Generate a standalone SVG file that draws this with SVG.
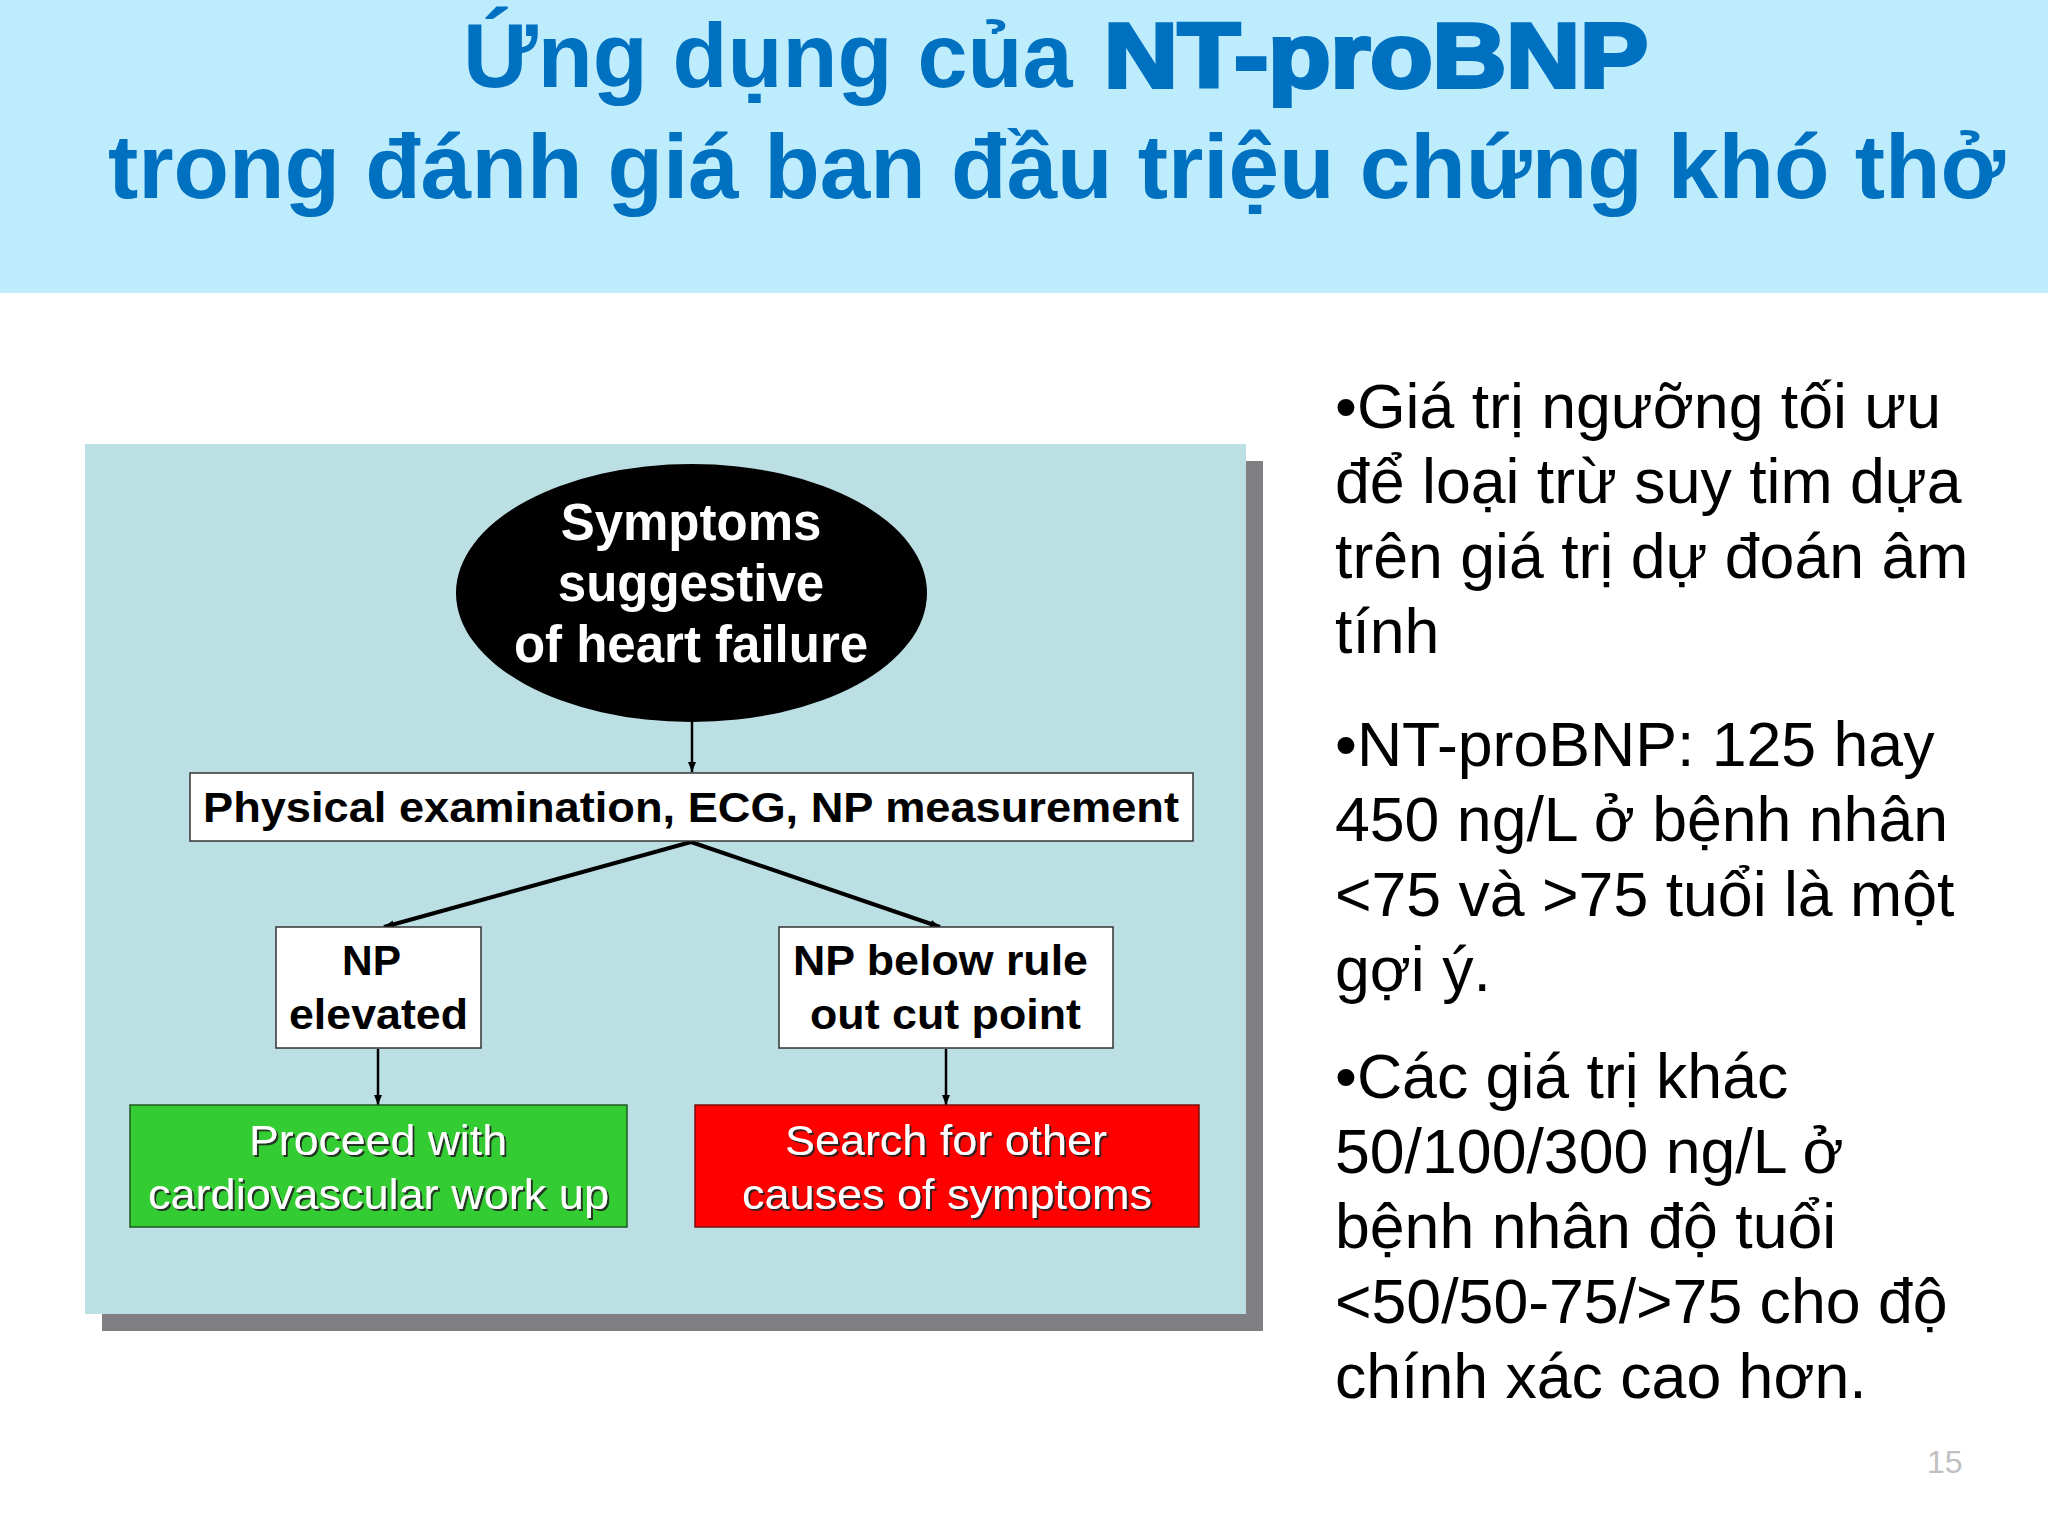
<svg xmlns="http://www.w3.org/2000/svg" width="2048" height="1536" viewBox="0 0 2048 1536">
<defs>
<style>
.title{font-family:"Liberation Sans",Arial,sans-serif;font-weight:bold;fill:#0070C0;font-size:90px}
.box{fill:#ffffff;stroke:#333333;stroke-width:1.5}
.bt{font-family:"Liberation Sans",Arial,sans-serif;font-weight:bold;fill:#000000;font-size:42px}
.wt{font-family:"Liberation Sans",Arial,sans-serif;fill:#ffffff;font-size:42px}
.et{font-family:"Liberation Sans",Arial,sans-serif;font-weight:bold;fill:#ffffff;font-size:51px;text-anchor:middle}
.body{font-family:"Liberation Sans",Arial,sans-serif;fill:#000000;font-size:62.6px}
.conn{stroke:#000000;fill:none}
</style>
<marker id="ah" viewBox="0 0 10 10" refX="10" refY="5" markerWidth="10" markerHeight="10" markerUnits="userSpaceOnUse" orient="auto">
<path d="M0,1 L10,5 L0,9 Z" fill="#000000"/>
</marker>
<filter id="sh" x="-5%" y="-20%" width="110%" height="140%">
<feDropShadow dx="2" dy="2" stdDeviation="0.6" flood-color="#202020" flood-opacity="0.9"/>
</filter>
</defs>
<rect x="0" y="0" width="2048" height="1536" fill="#ffffff"/>
<g id="header">
<rect x="0" y="0" width="2048" height="293" fill="#BDEDFC"/>
<text class="title" x="463" y="87">Ứng dụng của <tspan x="1104" textLength="544" lengthAdjust="spacingAndGlyphs" stroke="#0070C0" stroke-width="4">NT-proBNP</tspan></text>
<text class="title" x="108" y="198" textLength="1897" lengthAdjust="spacingAndGlyphs">trong đánh giá ban đầu triệu chứng khó thở</text>
</g>
<g id="panel">
<rect x="102" y="461" width="1161" height="870" fill="#807F83"/>
<rect x="85" y="444" width="1161" height="870" fill="#BBDFE3"/>
</g>
<g id="connectors">
<line class="conn" x1="692" y1="722" x2="692" y2="772" stroke-width="2.5" marker-end="url(#ah)"/>
<line class="conn" x1="691" y1="842" x2="384" y2="927" stroke-width="4" marker-end="url(#ah)"/>
<line class="conn" x1="691" y1="842" x2="940" y2="927" stroke-width="4" marker-end="url(#ah)"/>
<line class="conn" x1="378" y1="1049" x2="378" y2="1105" stroke-width="2.5" marker-end="url(#ah)"/>
<line class="conn" x1="946" y1="1049" x2="946" y2="1105" stroke-width="2.5" marker-end="url(#ah)"/>
</g>
<g id="symptoms">
<ellipse cx="691.5" cy="593" rx="235.5" ry="129" fill="#000000"/>
<text class="et" x="691" y="540">Symptoms</text>
<text class="et" x="691" y="601">suggestive</text>
<text class="et" x="691" y="662">of heart failure</text>
</g>
<g id="exam">
<rect class="box" x="190" y="773" width="1003" height="68"/>
<text class="bt" x="203" y="822" textLength="976" lengthAdjust="spacingAndGlyphs">Physical examination, ECG, NP measurement</text>
</g>
<g id="np-elevated">
<rect class="box" x="276" y="927" width="205" height="121"/>
<text class="bt" x="342" y="975" textLength="59" lengthAdjust="spacingAndGlyphs">NP</text>
<text class="bt" x="289" y="1029" textLength="179" lengthAdjust="spacingAndGlyphs">elevated</text>
</g>
<g id="np-below">
<rect class="box" x="779" y="927" width="334" height="121"/>
<text class="bt" x="793" y="975" textLength="295" lengthAdjust="spacingAndGlyphs">NP below rule</text>
<text class="bt" x="810" y="1029" textLength="271" lengthAdjust="spacingAndGlyphs">out cut point</text>
</g>
<g id="proceed">
<rect x="130" y="1105" width="497" height="122" fill="#33CC33" stroke="#1f5a1f" stroke-width="1.5"/>
<text class="wt" filter="url(#sh)" x="249" y="1155" textLength="258" lengthAdjust="spacingAndGlyphs">Proceed with</text>
<text class="wt" filter="url(#sh)" x="148" y="1209" textLength="461" lengthAdjust="spacingAndGlyphs">cardiovascular work up</text>
</g>
<g id="search">
<rect x="695" y="1105" width="504" height="122" fill="#FF0000" stroke="#7a1010" stroke-width="1.5"/>
<text class="wt" filter="url(#sh)" x="785" y="1155" textLength="322" lengthAdjust="spacingAndGlyphs">Search for other</text>
<text class="wt" filter="url(#sh)" x="742" y="1209" textLength="410" lengthAdjust="spacingAndGlyphs">causes of symptoms</text>
</g>
<g id="notes">
<text class="body" x="1335" y="428">•Giá trị ngưỡng tối ưu</text>
<text class="body" x="1335" y="503">để loại trừ suy tim dựa</text>
<text class="body" x="1335" y="578">trên giá trị dự đoán âm</text>
<text class="body" x="1335" y="653">tính</text>
<text class="body" x="1335" y="766">•NT-proBNP: 125 hay</text>
<text class="body" x="1335" y="841">450 ng/L ở bệnh nhân</text>
<text class="body" x="1335" y="916">&lt;75 và &gt;75 tuổi là một</text>
<text class="body" x="1335" y="991">gợi ý.</text>
<text class="body" x="1335" y="1098">•Các giá trị khác</text>
<text class="body" x="1335" y="1173">50/100/300 ng/L ở</text>
<text class="body" x="1335" y="1248">bệnh nhân độ tuổi</text>
<text class="body" x="1335" y="1323">&lt;50/50-75/&gt;75 cho độ</text>
<text class="body" x="1335" y="1398">chính xác cao hơn.</text>
</g>
<g id="page-number">
<text x="1927" y="1473" font-family="Liberation Sans, Arial, sans-serif" font-size="32" fill="#C0C0C0">15</text>
</g>
</svg>
